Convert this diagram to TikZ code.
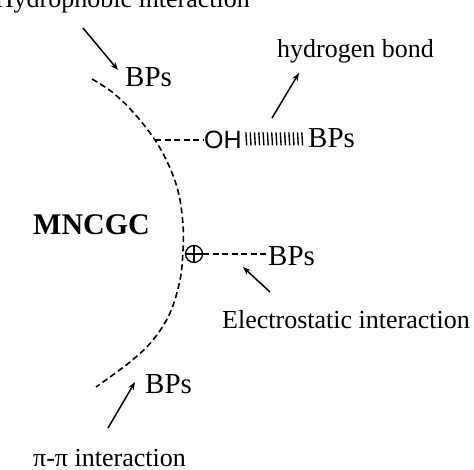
\documentclass[tikz,border=0pt]{standalone}
\usepackage{fontspec}
\setmainfont{Liberation Serif}
\newfontfamily\ohfont{Liberation Sans}
\usetikzlibrary{arrows.meta,calc}
\begin{document}
\begin{tikzpicture}[x=1pt,y=-1pt,
  lbl/.style={anchor=base west,inner sep=0pt,font=\fontsize{26}{28}\selectfont},
  bps/.style={anchor=base west,inner sep=0pt,font=\fontsize{29}{30}\selectfont},
  dsh/.style={line width=1.6pt,dash pattern=on 6pt off 3.5pt},
  arr/.style={line width=1.5pt,-{Stealth[length=8pt,width=6pt]}},
  hashln/.style={line width=1.4pt}]
\useasboundingbox (0,0) rectangle (474,470);
% texts
\node[lbl,anchor=base east] (hyd) at (250,8) {Hydrophobic interaction};
\node[bps] (bp1) at (125,87) {BPs};
\node[lbl] (hb) at (277,58) {hydrogen bond};
\node[anchor=base west,inner sep=0pt,font=\ohfont\fontsize{25}{27}\selectfont] (oh) at (204,149) {OH};
\node[bps] (bp2) at (308,148) {BPs};
\node[anchor=base west,inner sep=0pt,font=\bfseries\fontsize{30}{32}\selectfont] (mn) at (33,235) {MNCGC};
\node[circle,draw,line width=1.3pt,minimum size=17pt,inner sep=0pt] (plus) at (194,254) {};
\draw[line width=1.2pt] (plus.north) -- (plus.south) (plus.west) -- (plus.east);
\node[bps] (bp3) at (268,266) {BPs};
\node[lbl] (el) at (222,329) {Electrostatic interaction};
\node[bps] (bp4) at (145,393) {BPs};
\node[lbl] (pi) at (33,466) {π-π interaction};
% curve
\coordinate (c1) at (155,140);
\draw[dsh] plot[smooth,tension=0.6] coordinates {(92,79) (112,92) (133,112) (155,140) (170,168) (179,195) (183,225) (183,250) (180,280) (170,313) (153,340) (130,362) (96,387)};
% connectors
\draw[dsh] (c1) -- (oh.west |- c1);
\draw[dsh] (plus.east) -- (bp3.west |- plus.east);
\foreach \i in {0,...,13} {
  \draw[hashln] ($(oh.east)+(4+\i*4.3,-8)$) -- ++(0.8,13);
}
\coordinate (a1s) at (83,28);
\coordinate (a1e) at (118,70);
\draw[arr] (a1s) -- (a1e);
\coordinate (a2s) at (272,118);
\coordinate (a2e) at (299,73);
\draw[arr] (a2s) -- (a2e);
\coordinate (a3s) at (270,292);
\coordinate (a3e) at (243,267);
\draw[arr] (a3s) -- (a3e);
\coordinate (a4s) at (108,428);
\coordinate (a4e) at (135,382);
\draw[arr] (a4s) -- (a4e);
\end{tikzpicture}
\end{document}
